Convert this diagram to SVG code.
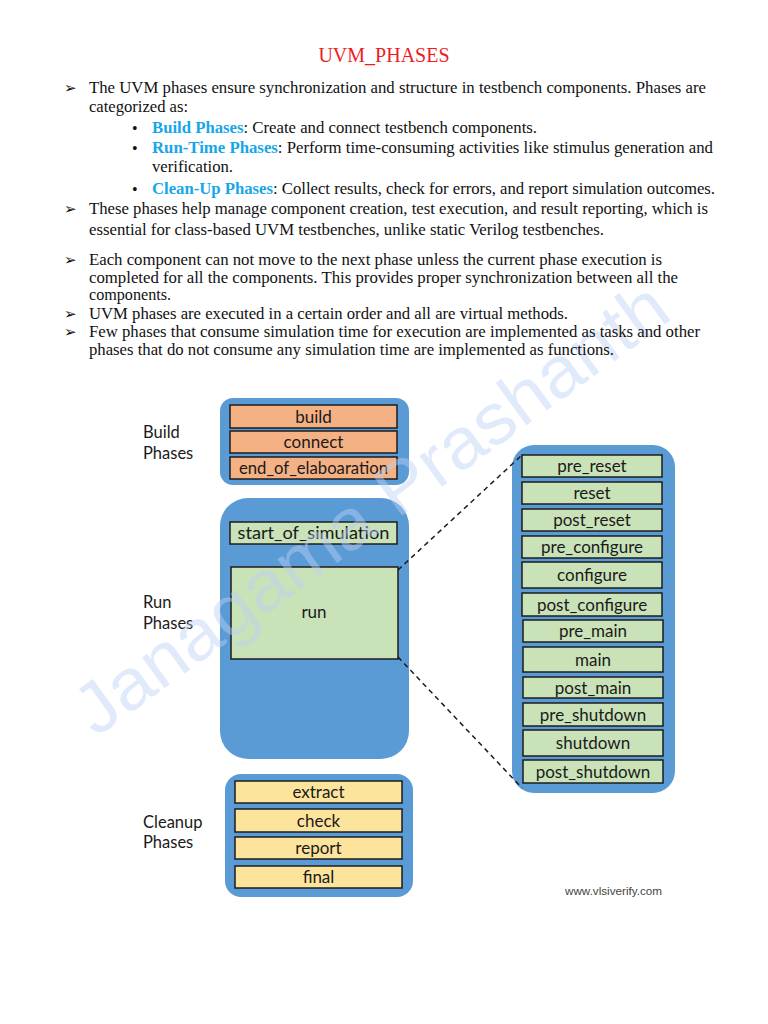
<svg xmlns="http://www.w3.org/2000/svg" width="768" height="1024" viewBox="0 0 768 1024">
<style>
.p{font-family:"Liberation Serif","Times New Roman",serif;font-size:16px;fill:#111}
.b{font-family:"DejaVu Sans",sans-serif;font-size:15px;fill:#111}
.hl{fill:#17a6e8;font-weight:bold}
.lbl{font-family:Lato,"Noto Sans",sans-serif;font-size:16.5px;fill:#1a1a1a}
.t{font-family:Lato,"Noto Sans",sans-serif;font-size:17px;fill:#1a1a1a;text-anchor:middle}
.outer{fill:#5b9bd5}
.or{fill:#f4b183;stroke:#1c1c1c;stroke-width:1.5}
.gr{fill:#c9e2b8;stroke:#1c1c1c;stroke-width:1.5}
.ye{fill:#fde49c;stroke:#1c1c1c;stroke-width:1.5}
.dash{stroke:#1c1c1c;stroke-width:1.5;stroke-dasharray:5 4;fill:none}
</style>
<rect width="768" height="1024" fill="#ffffff"/>

<!-- Diagram -->
<g id="build-phases">
  <text class="lbl" x="143" y="438">Build</text>
  <text class="lbl" x="143" y="459">Phases</text>
  <rect class="outer" x="220" y="398" width="189" height="87" rx="13"/>
  <g id="build"><rect class="or" x="230" y="405" width="167" height="23"/><text class="t" x="313.5" y="422.5">build</text></g>
  <g id="connect"><rect class="or" x="230" y="431" width="167" height="22"/><text class="t" x="313.5" y="448">connect</text></g>
  <g id="end_of_elaboaration"><rect class="or" x="230" y="457" width="167" height="22"/><text class="t" x="313.5" y="474" textLength="149" lengthAdjust="spacingAndGlyphs">end_of_elaboaration</text></g>
</g>

<g id="run-phases">
  <text class="lbl" x="143" y="608">Run</text>
  <text class="lbl" x="143" y="629">Phases</text>
  <rect class="outer" x="220" y="498" width="189" height="261" rx="28"/>
  <g id="start_of_simulation"><rect class="gr" x="230" y="522" width="167" height="22"/><text class="t" x="313.5" y="539" textLength="152" lengthAdjust="spacingAndGlyphs">start_of_simulation</text></g>
  <g id="run"><rect class="gr" x="231" y="567" width="167" height="92"/><text class="t" x="314" y="618">run</text></g>
</g>

<g id="runtime-subphases">
  <rect class="outer" x="512" y="445" width="163" height="348" rx="22"/>
  <g id="pre_reset"><rect class="gr" x="522" y="455" width="140" height="22"/><text class="t" x="592" y="472">pre_reset</text></g>
  <g id="reset"><rect class="gr" x="522" y="482" width="140" height="22"/><text class="t" x="592" y="499">reset</text></g>
  <g id="post_reset"><rect class="gr" x="522" y="509" width="140" height="22"/><text class="t" x="592" y="526">post_reset</text></g>
  <g id="pre_configure"><rect class="gr" x="522" y="536" width="140" height="22"/><text class="t" x="592" y="553">pre_configure</text></g>
  <g id="configure"><rect class="gr" x="522" y="562" width="140" height="26"/><text class="t" x="592" y="581">configure</text></g>
  <g id="post_configure"><rect class="gr" x="522" y="593" width="140" height="23"/><text class="t" x="592" y="610.5">post_configure</text></g>
  <g id="pre_main"><rect class="gr" x="523" y="620" width="140" height="22"/><text class="t" x="593" y="637">pre_main</text></g>
  <g id="main"><rect class="gr" x="523" y="647" width="140" height="25"/><text class="t" x="593" y="665.5">main</text></g>
  <g id="post_main"><rect class="gr" x="523" y="677" width="140" height="21"/><text class="t" x="593" y="693.5">post_main</text></g>
  <g id="pre_shutdown"><rect class="gr" x="523" y="703" width="140" height="23"/><text class="t" x="593" y="720.5">pre_shutdown</text></g>
  <g id="shutdown"><rect class="gr" x="523" y="730" width="140" height="26"/><text class="t" x="593" y="749">shutdown</text></g>
  <g id="post_shutdown"><rect class="gr" x="523" y="760" width="140" height="23"/><text class="t" x="593" y="777.5">post_shutdown</text></g>
</g>

<g id="cleanup-phases">
  <text class="lbl" x="143" y="828">Cleanup</text>
  <text class="lbl" x="143" y="848">Phases</text>
  <rect class="outer" x="225" y="774" width="188" height="123" rx="16"/>
  <g id="extract"><rect class="ye" x="235" y="781" width="167" height="22"/><text class="t" x="318.5" y="798">extract</text></g>
  <g id="check"><rect class="ye" x="235" y="809" width="167" height="23"/><text class="t" x="318.5" y="826.5">check</text></g>
  <g id="report"><rect class="ye" x="235" y="837" width="167" height="22"/><text class="t" x="318.5" y="854">report</text></g>
  <g id="final"><rect class="ye" x="235" y="866" width="167" height="22"/><text class="t" x="318.5" y="883">final</text></g>
</g>

<g id="connectors">
  <line class="dash" x1="398" y1="570" x2="522" y2="455"/>
  <line class="dash" x1="398" y1="657" x2="522" y2="788"/>
</g>

<text x="565" y="895" font-family="'Liberation Sans',Arial,sans-serif" font-size="11.5" fill="#444" textLength="97" lengthAdjust="spacingAndGlyphs">www.vlsiverify.com</text>

<!-- Watermark -->
<text x="0" y="0" transform="translate(96,738) rotate(-36)" font-family="'Liberation Sans',Arial,sans-serif" font-size="72" fill="#bcd1f6" fill-opacity="0.45" textLength="715" lengthAdjust="spacingAndGlyphs">Janagama Prashanth</text>

<!-- Header text -->
<text x="384" y="62" text-anchor="middle" font-family="'Liberation Serif','Times New Roman',serif" font-size="20" fill="#ee1c1c">UVM_PHASES</text>

<g id="bullets">
  <text class="b" x="64" y="93">➢</text>
  <text class="b" x="64" y="214">➢</text>
  <text class="b" x="64" y="265">➢</text>
  <text class="b" x="64" y="319">➢</text>
  <text class="b" x="64" y="337">➢</text>
  <text class="p" x="132" y="134" font-size="18">•</text>
  <text class="p" x="132" y="154" font-size="18">•</text>
  <text class="p" x="132" y="195" font-size="18">•</text>
</g>
<g id="paragraphs">
  <text class="p" x="89" y="93" textLength="617" lengthAdjust="spacingAndGlyphs">The UVM phases ensure synchronization and structure in testbench components. Phases are</text>
  <text class="p" x="89" y="112" textLength="99" lengthAdjust="spacingAndGlyphs">categorized as:</text>
  <text class="p" x="152" y="133" textLength="385" lengthAdjust="spacingAndGlyphs"><tspan class="hl">Build Phases</tspan>: Create and connect testbench components.</text>
  <text class="p" x="152" y="153" textLength="561" lengthAdjust="spacingAndGlyphs"><tspan class="hl">Run-Time Phases</tspan>: Perform time-consuming activities like stimulus generation and</text>
  <text class="p" x="152" y="172" textLength="81" lengthAdjust="spacingAndGlyphs">verification.</text>
  <text class="p" x="152" y="194" textLength="563" lengthAdjust="spacingAndGlyphs"><tspan class="hl">Clean-Up Phases</tspan>: Collect results, check for errors, and report simulation outcomes.</text>
  <text class="p" x="89" y="214" textLength="619" lengthAdjust="spacingAndGlyphs">These phases help manage component creation, test execution, and result reporting, which is</text>
  <text class="p" x="89" y="235" textLength="515" lengthAdjust="spacingAndGlyphs">essential for class-based UVM testbenches, unlike static Verilog testbenches.</text>
  <text class="p" x="89" y="265" textLength="573" lengthAdjust="spacingAndGlyphs">Each component can not move to the next phase unless the current phase execution is</text>
  <text class="p" x="89" y="283" textLength="589" lengthAdjust="spacingAndGlyphs">completed for all the components. This provides proper synchronization between all the</text>
  <text class="p" x="89" y="300" textLength="82" lengthAdjust="spacingAndGlyphs">components.</text>
  <text class="p" x="89" y="319" textLength="479" lengthAdjust="spacingAndGlyphs">UVM phases are executed in a certain order and all are virtual methods.</text>
  <text class="p" x="89" y="337" textLength="611" lengthAdjust="spacingAndGlyphs">Few phases that consume simulation time for execution are implemented as tasks and other</text>
  <text class="p" x="89" y="355" textLength="525" lengthAdjust="spacingAndGlyphs">phases that do not consume any simulation time are implemented as functions.</text>
</g>
</svg>
